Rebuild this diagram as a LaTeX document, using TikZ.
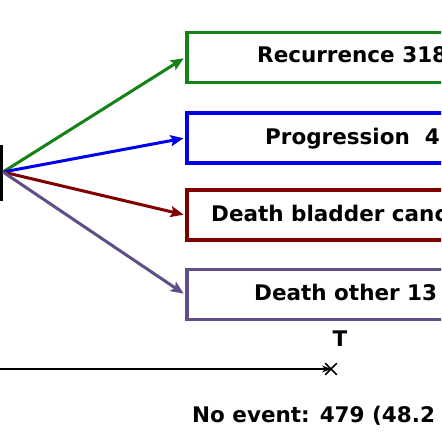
\documentclass[tikz,border=0pt]{standalone}
\usepackage{fontspec}
\setmainfont{DejaVu Sans}
\usetikzlibrary{arrows.meta,shapes.misc}
\definecolor{cgreen}{RGB}{20,130,20}
\definecolor{cblue}{RGB}{0,0,235}
\definecolor{cred}{RGB}{128,0,0}
\definecolor{cpurple}{RGB}{95,78,135}
\begin{document}
\begin{tikzpicture}[x=1pt,y=-1pt,
  box/.style={draw, line width=3.5pt, anchor=west, minimum width=330pt, minimum height=50pt, inner sep=0pt},
  lbl/.style={anchor=base west, font=\bfseries\fontsize{21.5}{24}\selectfont, inner sep=0pt},
  arr/.style={line width=3pt, -{Stealth[length=13pt,width=11pt,inset=2.5pt]}, shorten >=1.5pt}]
\useasboundingbox (0,0) rectangle (441,441);
\clip (0,0) rectangle (441,441);
\fill[white] (0,0) rectangle (441,441);
% boxes
\node[box, draw=cgreen]  (rec)  at (185,57.5) {};
\node[box, draw=cblue]   (prog) at (185,138) {};
\node[box, draw=cred]    (dbc)  at (185,215) {};
\node[box, draw=cpurple] (doth) at (185,294.5) {};
% labels
\node[lbl] (trec)  at (257,62.5) {Recurrence 318};
\node[lbl] (tprog) at (265,144) {Progression\ \ 4};
\node[lbl] (tdbc)  at (211,221) {Death bladder canc};
\node[lbl] (tdoth) at (254,300) {Death other 13};
% origin bar
\draw[line width=3pt] (1,145) -- (1,201);
\coordinate (o) at (3,172);
\draw[arr, cgreen]  (o) -- (rec.west);
\draw[arr, cblue]   (o) -- (prog.west);
\draw[arr, cred]    (o) -- (dbc.west);
\draw[arr, cpurple] (o) -- (doth.west);
% timeline
\coordinate (tstart) at (-5,369);
\node[cross out, draw, line width=1.6pt, minimum size=10pt, inner sep=0pt] (cx) at (331,369) {};
\draw[line width=1.2pt, -{Stealth[length=9pt,width=7pt]}] (tstart) -- (cx.center);
\node[anchor=base, font=\bfseries\fontsize{21.5}{24}\selectfont, inner sep=0pt] (tT) at (340,346) {T};
\node[lbl] (noev) at (192,422) {No event: 479 (48.2};
\end{tikzpicture}
\end{document}
